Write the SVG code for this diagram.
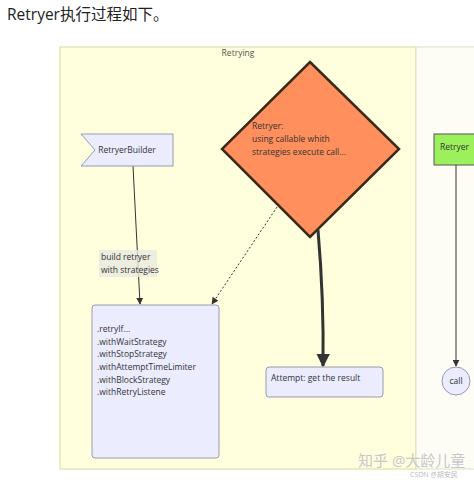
<svg xmlns="http://www.w3.org/2000/svg" width="474" height="482" viewBox="0 0 474 482">
<style>
text{font-family:"Open Sans","Liberation Sans","Noto Sans CJK SC",sans-serif;fill:#333}
.lbl{font-size:8.5px}
.node{fill:#ececff;stroke:#9a9ab0;stroke-width:1}
.edge{fill:none;stroke:#333;stroke-width:1}
</style>
<defs>
<marker id="ah" viewBox="0 0 10 10" refX="9" refY="5" markerWidth="7" markerHeight="7" orient="auto"><path d="M0,0 L10,5 L0,10 z" fill="#333"/></marker>
<marker id="ahb" viewBox="0 0 10 10" refX="9" refY="5" markerWidth="4.5" markerHeight="4.5" orient="auto"><path d="M0,0 L10,5 L0,10 z" fill="#333"/></marker>
</defs>
<rect width="474" height="482" fill="#ffffff"/>
<text x="7" y="20" style="font-size:15.5px;fill:#222">Retryer执行过程如下。</text>

<g id="cluster-retrying">
<rect x="60" y="47" width="356" height="422" fill="#ffffde" stroke="#d8d8a0" stroke-width="1"/>
<text x="238" y="56" class="lbl" text-anchor="middle" style="fill:#555">Retrying</text>
</g>
<g id="cluster-right">
<rect x="416" y="47" width="70" height="422" fill="#fdfdf6" stroke="#e0e0c0" stroke-width="1"/>
</g>

<g id="connectors">
<path class="edge" d="M133,166 L140,304" marker-end="url(#ah)"/>
<path class="edge" d="M277,207 L212,304" stroke-dasharray="2,2" marker-end="url(#ah)"/>
<path d="M318,230 Q324,300 323,366" fill="none" stroke="#333" stroke-width="3" marker-end="url(#ahb)"/>
<path class="edge" d="M456,165 L456,366" marker-end="url(#ah)"/>
<rect x="99" y="250" width="58" height="27" fill="#e8e8e0" opacity="0.8"/>
<text x="101" y="260" class="lbl">build retryer</text>
<text x="101" y="273" class="lbl">with strategies</text>
</g>

<g id="retryerbuilder">
<path d="M81,134 L173,134 L173,166 L81,166 L95,150 Z" class="node"/>
<text x="127" y="153" class="lbl" text-anchor="middle">RetryerBuilder</text>
</g>

<g id="retryer-diamond">
<path d="M310,62 L399,149 L310,237 L222,149 Z" fill="#ff8f5c" stroke="#3a2a1a" stroke-width="2.5" stroke-linejoin="miter"/>
<text x="252" y="129" class="lbl">Retryer:</text>
<text x="252" y="142" class="lbl">using callable whith</text>
<text x="252" y="155" class="lbl">strategies execute call...</text>
</g>

<g id="strategies">
<rect x="92" y="305" width="127" height="153" rx="3" class="node"/>
<text x="97" y="332" class="lbl">.retryIf...</text>
<text x="97" y="345" class="lbl">.withWaitStrategy</text>
<text x="97" y="357" class="lbl">.withStopStrategy</text>
<text x="97" y="370" class="lbl">.withAttemptTimeLimiter</text>
<text x="97" y="383" class="lbl">.withBlockStrategy</text>
<text x="97" y="395" class="lbl">.withRetryListene</text>
</g>

<g id="attempt">
<rect x="266" y="367" width="117" height="30" rx="3" class="node"/>
<text x="271" y="381" class="lbl">Attempt: get the result</text>
</g>

<g id="retryer-green">
<rect x="434" y="134" width="44" height="31" fill="#9cf05c" stroke="#555" stroke-width="1"/>
<text x="440" y="150" class="lbl">Retryer</text>
</g>

<g id="call">
<circle cx="456" cy="381" r="14" class="node"/>
<text x="456" y="384" class="lbl" text-anchor="middle">call</text>
</g>

<text x="358" y="466" style="font-size:15px;fill:#c8c8c8">知乎 @大龄儿童</text>
<text x="410" y="477" style="font-size:7px;fill:#bbb">CSDN @胡安民</text>
</svg>
